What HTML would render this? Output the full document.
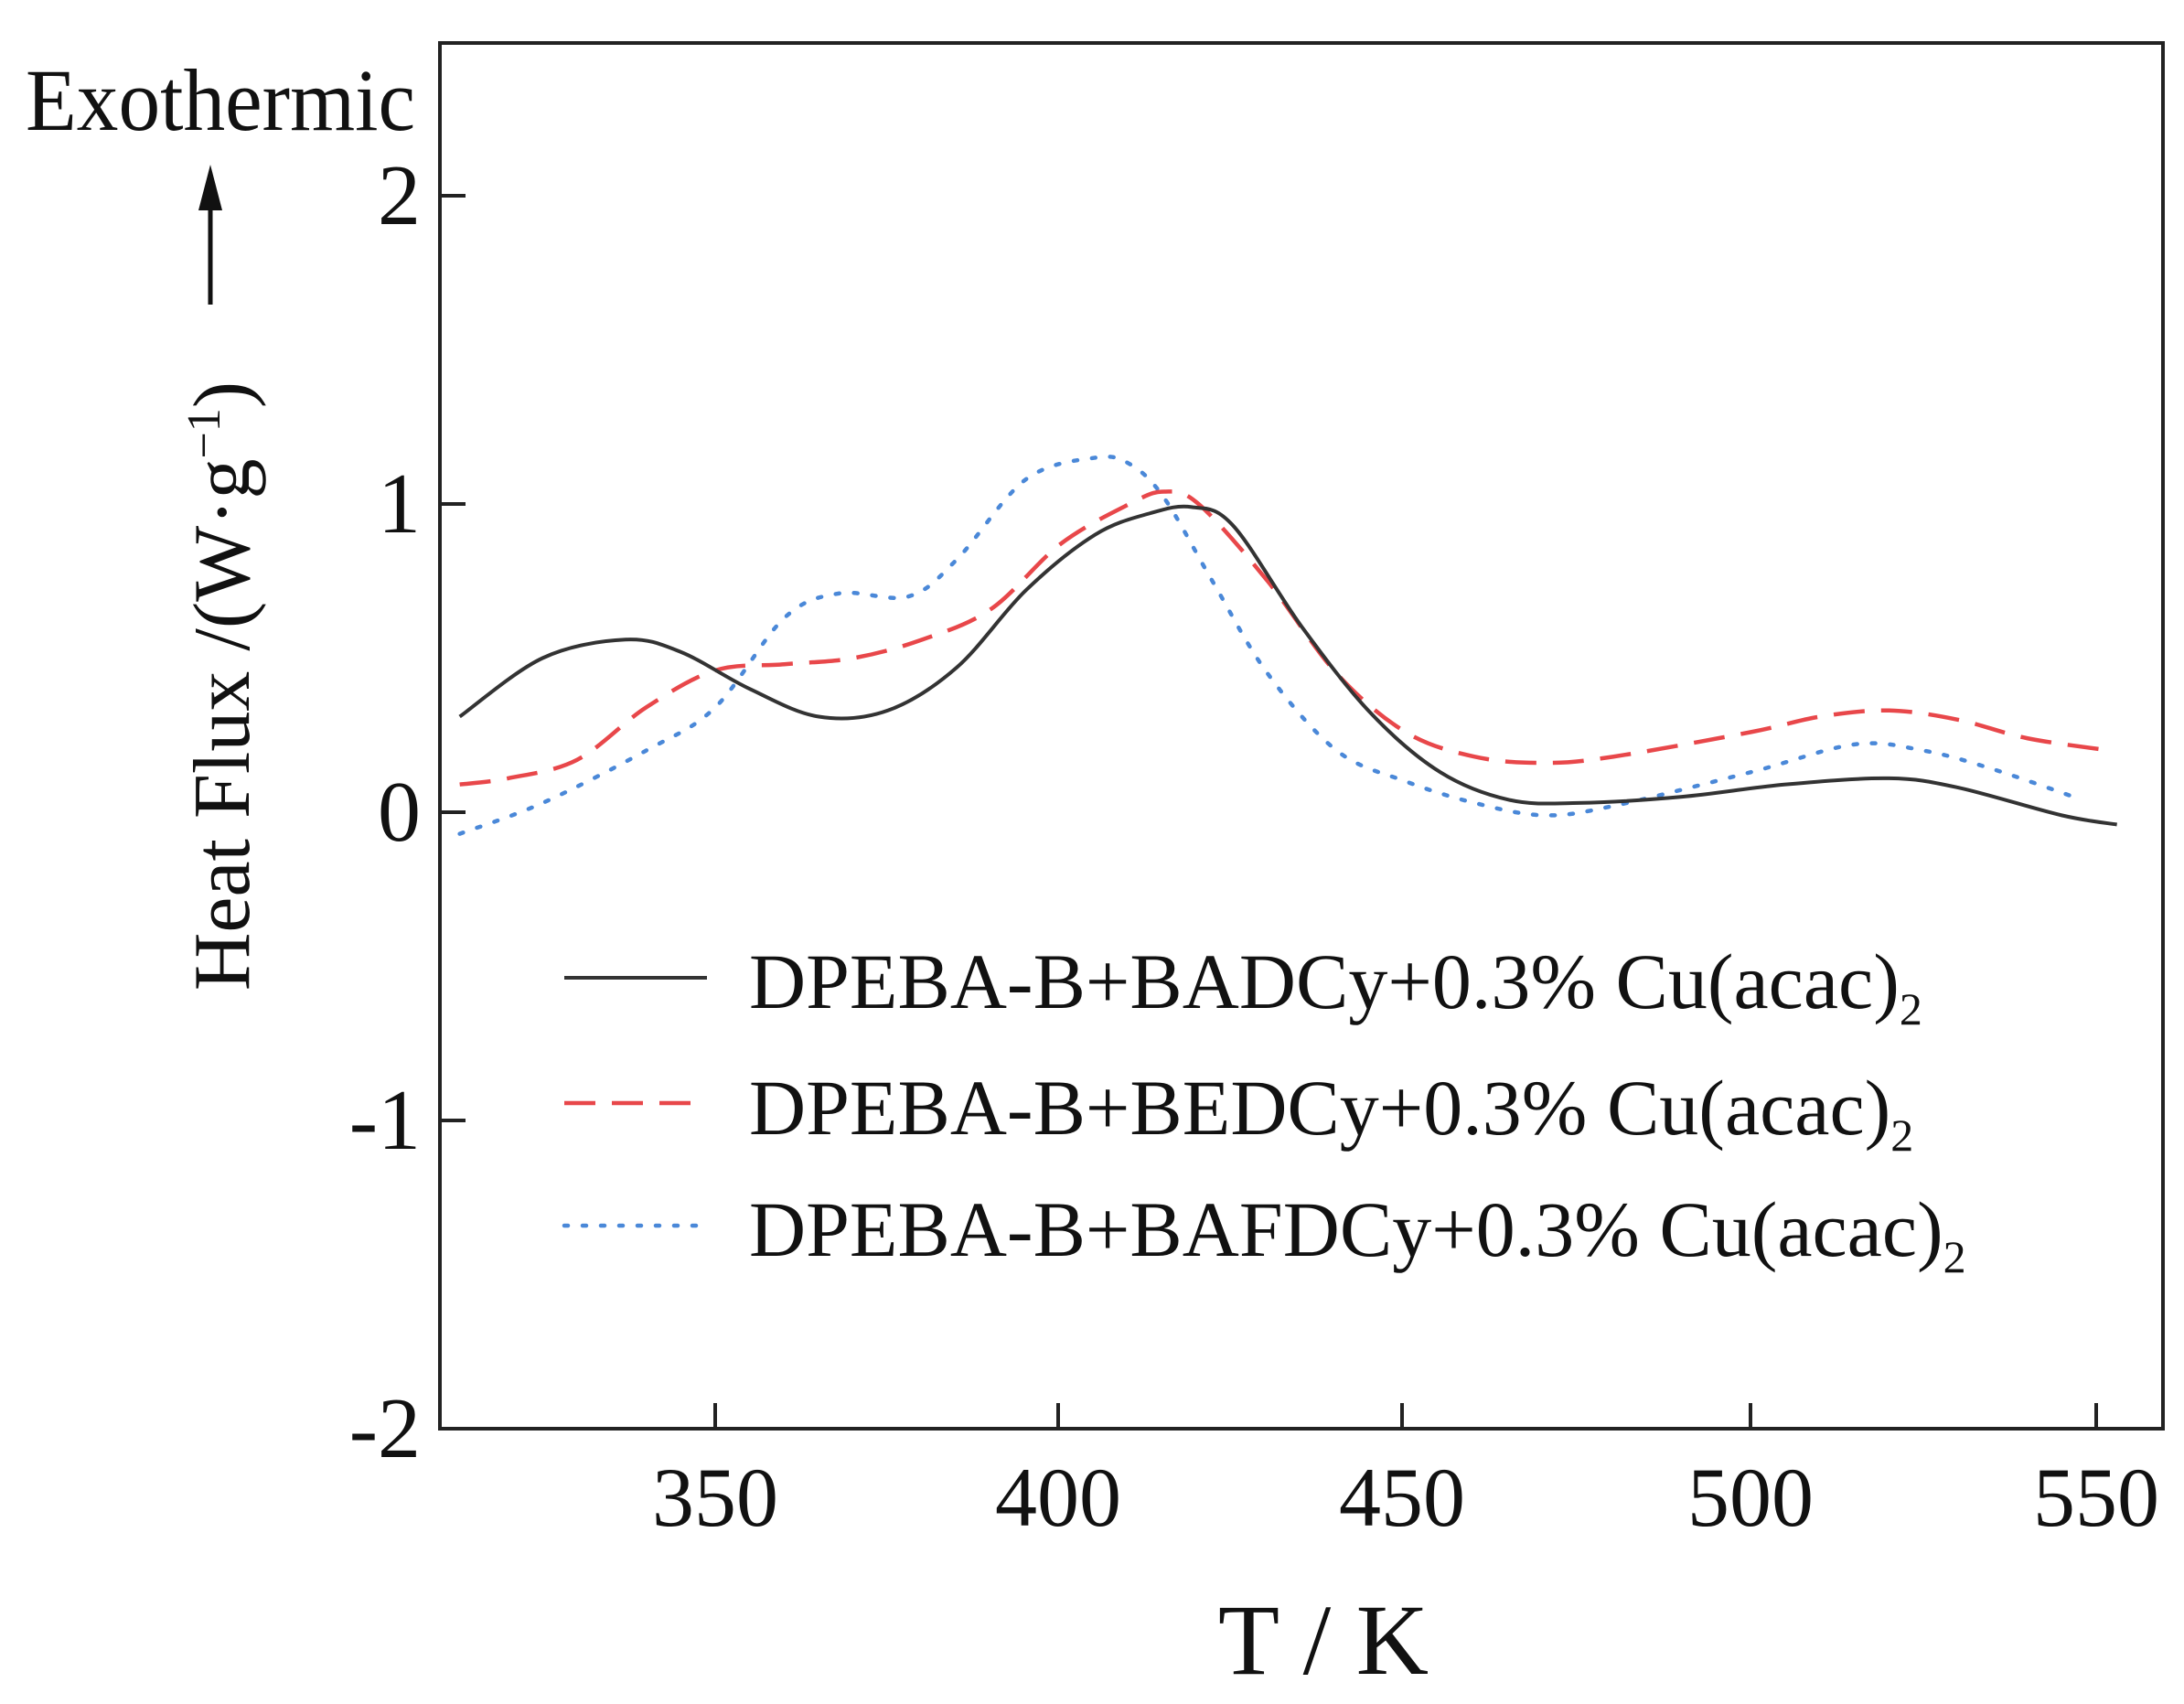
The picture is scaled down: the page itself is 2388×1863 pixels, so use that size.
<!DOCTYPE html>
<html><head><meta charset="utf-8"><style>
html,body{margin:0;padding:0;background:#fff;}
svg{display:block;}
text{font-family:"Liberation Serif",serif;fill:#111;}
</style></head><body>
<svg id="s" width="2388" height="1863" viewBox="0 0 2388 1863" xmlns="http://www.w3.org/2000/svg">
<rect x="0" y="0" width="2388" height="1863" fill="#fff"/>
<rect x="481" y="47" width="1884" height="1515" fill="none" stroke="#222" stroke-width="4"/>
<g stroke="#222" stroke-width="4">
<line x1="481" y1="214" x2="509" y2="214"/>
<line x1="481" y1="551" x2="509" y2="551"/>
<line x1="481" y1="888" x2="509" y2="888"/>
<line x1="481" y1="1225" x2="509" y2="1225"/>
<line x1="782" y1="1562" x2="782" y2="1534"/>
<line x1="1157" y1="1562" x2="1157" y2="1534"/>
<line x1="1533" y1="1562" x2="1533" y2="1534"/>
<line x1="1914" y1="1562" x2="1914" y2="1534"/>
<line x1="2292" y1="1562" x2="2292" y2="1534"/>
</g>
<g font-size="94" text-anchor="end">
<text x="460" y="245">2</text>
<text x="460" y="582">1</text>
<text x="460" y="919">0</text>
<text x="460" y="1256">-1</text>
<text x="460" y="1593">-2</text>
</g>
<g font-size="92" text-anchor="middle">
<text x="782" y="1668">350</text>
<text x="1157" y="1668">400</text>
<text x="1533" y="1668">450</text>
<text x="1914" y="1668">500</text>
<text x="2292" y="1668">550</text>
</g>
<text x="1447" y="1830" font-size="110" text-anchor="middle">T / K</text>
<text x="28" y="142" font-size="96" textLength="426" lengthAdjust="spacingAndGlyphs">Exothermic</text>
<line x1="230" y1="333" x2="230" y2="215" stroke="#111" stroke-width="5"/>
<polygon points="230,180 217,230 243,230" fill="#111"/>
<text transform="translate(272,750) rotate(-90)" font-size="88" text-anchor="middle">Heat Flux /(W·g<tspan dy="-32" font-size="52">−1</tspan><tspan dy="32">)</tspan></text>
<g id="curves" fill="none"></g>
<line x1="617" y1="1069" x2="773" y2="1069" stroke="#333" stroke-width="4"/>
<line x1="617" y1="1206" x2="773" y2="1206" stroke="#e8474a" stroke-width="4.5" stroke-dasharray="34,18"/>
<line x1="617" y1="1340" x2="773" y2="1340" stroke="#4a88d8" stroke-width="4.5" stroke-dasharray="4,16" stroke-linecap="round"/>
<g font-size="86">
<text x="819" y="1102">DPEBA-B+BADCy+0.3% Cu(acac)<tspan dy="18" font-size="50">2</tspan></text>
<text x="819" y="1240">DPEBA-B+BEDCy+0.3% Cu(acac)<tspan dy="18" font-size="50">2</tspan></text>
<text x="819" y="1373">DPEBA-B+BAFDCy+0.3% Cu(acac)<tspan dy="18" font-size="50">2</tspan></text>
</g>
</svg>
<script>
function px(t){return 782+(t-350)*7.55;}
function py(v){return 888-v*337;}
var black=[[313,0.31],[325,0.5],[337,0.56],[345,0.52],[355,0.4],[365,0.31],[375,0.33],[385,0.47],[395,0.72],[405,0.9],[413,0.97],[419,0.99],[425,0.93],[435,0.6],[445,0.32],[455,0.13],[465,0.04],[475,0.03],[490,0.05],[505,0.09],[520,0.11],[530,0.08],[545,-0.01],[553,-0.04]];
var red=[[313,0.09],[320,0.11],[330,0.17],[340,0.34],[350,0.46],[360,0.48],[370,0.5],[380,0.56],[390,0.66],[400,0.87],[410,1.0],[415,1.04],[420,1.0],[430,0.75],[440,0.45],[450,0.26],[460,0.18],[470,0.16],[480,0.18],[500,0.26],[510,0.31],[520,0.33],[530,0.3],[540,0.24],[552,0.2]];
var blue=[[313,-0.07],[325,0.03],[340,0.2],[350,0.34],[360,0.63],[368,0.71],[378,0.7],[385,0.82],[395,1.08],[405,1.15],[410,1.13],[415,1.02],[422,0.75],[430,0.45],[440,0.2],[450,0.1],[460,0.03],[470,-0.01],[480,0.02],[500,0.13],[515,0.22],[525,0.2],[535,0.14],[548,0.04]];
function path(d){var p=d.map(function(a){return[px(a[0]),py(a[1])];});var s="M"+p[0][0]+","+p[0][1];
for(var i=0;i<p.length-1;i++){var p0=p[i-1]||p[i],p1=p[i],p2=p[i+1],p3=p[i+2]||p2;
s+=" C"+(p1[0]+(p2[0]-p0[0])/6)+","+(p1[1]+(p2[1]-p0[1])/6)+" "+(p2[0]-(p3[0]-p1[0])/6)+","+(p2[1]-(p3[1]-p1[1])/6)+" "+p2[0]+","+p2[1];}return s;}
var g=document.getElementById("curves");
function add(d,c,w,da,cap){var e=document.createElementNS("http://www.w3.org/2000/svg","path");e.setAttribute("d",path(d));e.setAttribute("stroke",c);e.setAttribute("stroke-width",w);if(da)e.setAttribute("stroke-dasharray",da);if(cap)e.setAttribute("stroke-linecap",cap);g.appendChild(e);}
add(blue,"#4a88d8",4.5,"4,16","round");
add(red,"#e8474a",4.5,"34,18");
add(black,"#333",4);
</script>
</body></html>
